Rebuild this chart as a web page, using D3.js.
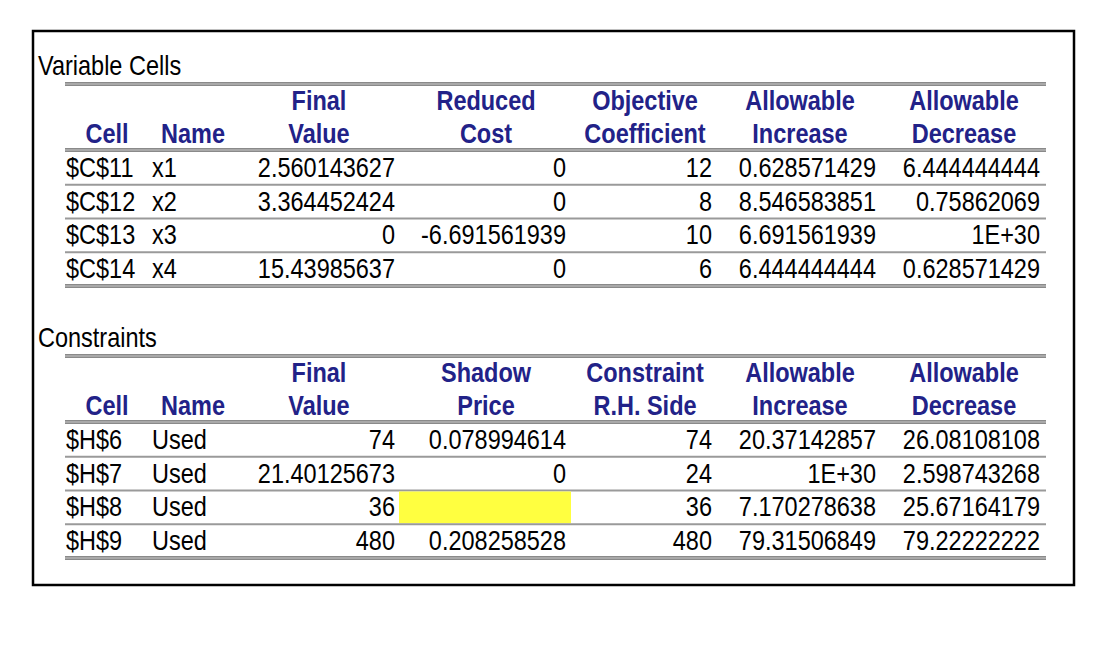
<!DOCTYPE html>
<html><head><meta charset="utf-8">
<script src="https://cdn.jsdelivr.net/npm/d3@7"></script>
<style>body{margin:0;background:#fff}</style></head><body>
<script>
const varHeaders1 = ["", "", "Final", "Reduced", "Objective", "Allowable", "Allowable"];
const varHeaders2 = ["Cell", "Name", "Value", "Cost", "Coefficient", "Increase", "Decrease"];
const varRows = [
  ["$C$11","x1","2.560143627","0","12","0.628571429","6.444444444"],
  ["$C$12","x2","3.364452424","0","8","8.546583851","0.75862069"],
  ["$C$13","x3","0","-6.691561939","10","6.691561939","1E+30"],
  ["$C$14","x4","15.43985637","0","6","6.444444444","0.628571429"]
];
const conHeaders1 = ["", "", "Final", "Shadow", "Constraint", "Allowable", "Allowable"];
const conHeaders2 = ["Cell", "Name", "Value", "Price", "R.H. Side", "Increase", "Decrease"];
const conRows = [
  ["$H$6","Used","74","0.078994614","74","20.37142857","26.08108108"],
  ["$H$7","Used","21.40125673","0","24","1E+30","2.598743268"],
  ["$H$8","Used","36","","36","7.170278638","25.67164179"],
  ["$H$9","Used","480","0.208258528","480","79.31506849","79.22222222"]
];
const highlight = {table:1,row:2,col:3};

const svg = d3.select("body").append("svg").attr("width",1120).attr("height",672);
svg.append("rect").attr("x",33).attr("y",31).attr("width",1041).attr("height",554)
  .attr("fill","#fff").attr("stroke","#000").attr("stroke-width",2.5);

const colRight = [null,null,395,566,712,876,1040];
const colLeft = [66,152];
const colCenter = [107,193,319,486,645,800,964];
const font = "Liberation Sans, Arial, sans-serif";

function txt(g,x,y,s,anchor,bold,color){
  g.append("text").attr("transform",`translate(${x},${y}) scale(1,1.2)`)
   .attr("text-anchor",anchor).attr("font-family",font)
   .attr("font-size",bold?23.5:23.5).attr("font-weight",bold?"bold":"normal")
   .attr("fill",color).text(s);
}
function rule(g,y,thick){
  if(thick){
    g.append("rect").attr("x",65).attr("y",y-2).attr("width",981).attr("height",4).attr("fill","#8a8a8a");
    g.append("rect").attr("x",65).attr("y",y-0.5).attr("width",981).attr("height",1).attr("fill","#c8c8c8");
  } else {
    g.append("rect").attr("x",65).attr("y",y-1).attr("width",981).attr("height",2).attr("fill","#9a9a9a");
  }
}
function table(idx,top,title,h1,h2,rows){
  const g = svg.append("g");
  txt(g,38,top,title,"start",false,"#000");
  rule(g,top+9,true);
  h1.forEach((h,i)=>{ if(h) txt(g,colCenter[i],top+35,h,"middle",true,"#222288"); });
  h2.forEach((h,i)=>txt(g,colCenter[i],top+68,h,"middle",true,"#222288"));
  rule(g,top+75,true);
  const y = d3.scaleBand().domain(d3.range(rows.length)).range([top+76,top+211]);
  rows.forEach((r,ri)=>{
    const yc = y(ri)+y.bandwidth()/2;
    if(highlight.table===idx && highlight.row===ri){
      const c=highlight.col;
      g.append("rect").attr("x",colRight[c-1]+4).attr("y",y(ri)+1).attr("width",colRight[c]-colRight[c-1]+1).attr("height",y.bandwidth()-2).attr("fill","#ffff40");
    }
    r.forEach((v,ci)=>{
      if(!v) return;
      if(ci<2) txt(g,colLeft[ci],yc+9,v,"start",false,"#000");
      else txt(g,colRight[ci],yc+9,v,"end",false,"#000");
    });
    if(ri<rows.length-1) rule(g,y(ri)+y.bandwidth(),false);
  });
  rule(g,top+211,true);
}
table(0,75,"Variable Cells",varHeaders1,varHeaders2,varRows);
table(1,347,"Constraints",conHeaders1,conHeaders2,conRows);
</script></body></html>
